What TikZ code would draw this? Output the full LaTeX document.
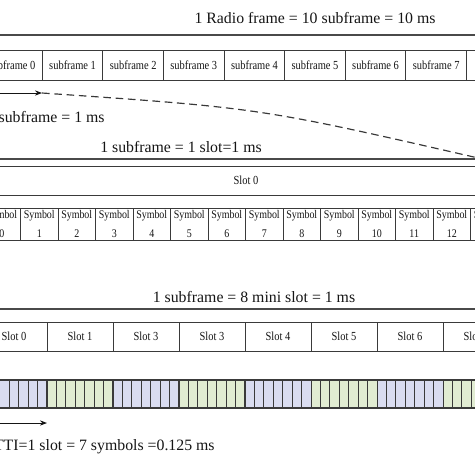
\documentclass[tikz,border=0pt]{standalone}
\usepackage{fontspec}
\setmainfont{Liberation Serif}
\newfontfamily\cellfont[FakeStretch=0.85]{Liberation Serif}
\usetikzlibrary{arrows.meta,positioning,calc}
\definecolor{edge}{HTML}{3A3A3A}
\definecolor{rulegray}{HTML}{4A4A4A}
\definecolor{symblue}{HTML}{D9DCF0}
\definecolor{symgreen}{HTML}{E1ECD2}
\definecolor{txt}{HTML}{151515}

\begin{document}
\begin{tikzpicture}[
  x=0.03cm, y=-0.03cm,
  >=Stealth,
  cell/.style={draw=edge, line width=0.7pt, inner sep=0pt, text=txt, align=center},
  sfcell/.style={cell, minimum width=1.818cm, minimum height=0.885cm, font=\cellfont\fontsize{10.5}{12}\selectfont},
  symcell/.style={cell, minimum width=1.125cm, minimum height=0.96cm, font=\cellfont\fontsize{10}{15.5}\selectfont},
  mscell/.style={cell, minimum width=1.98cm, minimum height=0.87cm, font=\cellfont\fontsize{10.5}{12}\selectfont},
  tick/.style={draw=edge, line width=0.9pt, minimum width=0.283cm, minimum height=0.84cm, inner sep=0pt},
  caption/.style={text=txt, inner sep=1pt, font=\fontsize{13.5}{15}\selectfont},
  rulebar/.style={draw=rulegray, line width=1.1pt},
  arr/.style={->, line width=0.8pt, color=txt, >={Stealth[length=6pt,width=4.5pt]}},
]
\useasboundingbox (0,0) rectangle (474,474);

% radio frame
\node[caption] (rftitle) at (315,18) {1 Radio frame = 10 subframe = 10 ms};
\draw[rulebar] (-10,35) -- (484,35);
\foreach \i in {0,...,8} {
  \ifnum\i<8
    \node[sfcell] (sf\i) at ({12+60.6*\i},65.5) {subframe \i};
  \else
    \node[sfcell, line width=1.2pt] (sf\i) at ({12+60.6*\i},65.5) {};
  \fi
}

% one subframe -> one slot
\coordinate (sfstart) at (-8,93);
\coordinate (sfend) at (42,93);
\coordinate (slotend) at (476,157.5);
\draw[arr] (sfstart) -- (sfend);
\draw[txt!85, line width=1pt, dash pattern=on 6.5pt off 4pt] (sfend) .. controls (260,108) .. (slotend);
\node[caption, anchor=east] (sflbl) at (106,117) {1 subframe = 1 ms};

\node[caption] (slottitle) at (181,147) {1 subframe = 1 slot=1 ms};
\draw[rulebar] (-10,159) -- (484,159);
\node[cell, minimum width=16.5cm, minimum height=0.87cm, font=\cellfont\fontsize{10.5}{12}\selectfont] (slotrow) at (246,180.5) {Slot 0};

\foreach \i in {0,...,13} {
  \node[symcell] (sym\i) at ({1.75+37.5*\i},224) {Symbol\\\i};
}

% mini slots
\node[caption] (mstitle) at (254,297) {1 subframe = 8 mini slot = 1 ms};
\draw[rulebar] (-10,309) -- (484,309);
\foreach \i/\t in {0/Slot 0, 1/Slot 1, 2/Slot 3, 3/Slot 3, 4/Slot 4, 5/Slot 5, 6/Slot 6, 7/Slot 7} {
  \node[mscell] (ms\i) at ({14+66*\i},336.5) {\t};
}

% symbol strip
\foreach \j in {0,...,55} {
  \pgfmathtruncatemacro{\grp}{mod(floor(\j/7),2)}
  \ifnum\grp=0
    \node[tick, fill=symblue] (tk\j) at ({-14.3+9.43*\j},394) {};
  \else
    \node[tick, fill=symgreen] (tk\j) at ({-14.3+9.43*\j},394) {};
  \fi
}

\coordinate (ttistart) at (-8,423);
\coordinate (ttiend) at (47,423);
\draw[arr] (ttistart) -- (ttiend);
\node[caption, anchor=east] (ttilbl) at (216,447) {TTI=1 slot = 7 symbols =0.125 ms};

\end{tikzpicture}
\end{document}
